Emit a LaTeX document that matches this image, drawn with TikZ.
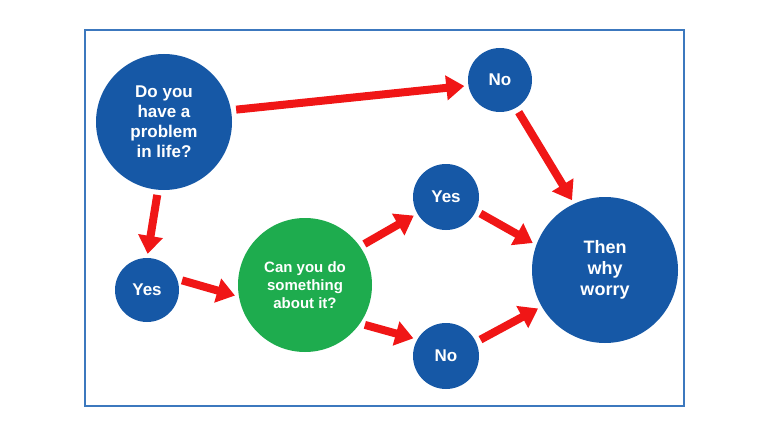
\documentclass[tikz,border=0pt]{standalone}
\usepackage{fontspec}
\setmainfont{Liberation Sans}
\usetikzlibrary{arrows.meta}
\definecolor{cblue}{RGB}{22,88,166}
\definecolor{cgreen}{RGB}{30,172,78}
\definecolor{cred}{RGB}{240,22,22}
\definecolor{cframe}{RGB}{60,120,190}
\begin{document}
\begin{tikzpicture}[x=1pt,y=-1pt,
  c/.style={circle,fill=cblue,text=white,font=\bfseries\fontsize{17}{20}\selectfont,align=center,inner sep=0pt},
  ar/.style={draw=cred,line width=8pt,-{Triangle[length=18pt,width=24pt]},shorten <=5pt,shorten >=4pt}]
\useasboundingbox (0,0) rectangle (768,433);
\draw[cframe,line width=1.2pt] (85,30) rectangle (684,406);
\node[c,minimum size=136pt] (p) at (164,122) {Do you\\have a\\problem\\in life?};
\node[c,minimum size=64pt] (n1) at (500,80) {No};
\node[c,minimum size=64pt] (y1) at (147,290) {Yes};
\node[c,fill=cgreen,minimum size=134pt,font=\bfseries\fontsize{15}{18}\selectfont] (g) at (305,285) {Can you do\\something\\about it?};
\node[c,minimum size=66pt] (y2) at (446,197) {Yes};
\node[c,minimum size=66pt] (n2) at (446,356) {No};
\node[c,minimum size=146pt,font=\bfseries\fontsize{18}{21}\selectfont] (t) at (605,270) {Then\\why\\worry};
\draw[ar] (p.10) -- (n1.190);
\draw[ar] (p.-95) -- (y1.90);
\draw[ar] (y1.20) -- (g.190);
\draw[ar] (g.35) -- (y2.210);
\draw[ar] (g.-35) -- (n2.150);
\draw[ar] (y2.-25) -- (t.160);
\draw[ar] (n2.25) -- (t.210);
\draw[ar] (n1.-60) -- (t.115);
\end{tikzpicture}
\end{document}
